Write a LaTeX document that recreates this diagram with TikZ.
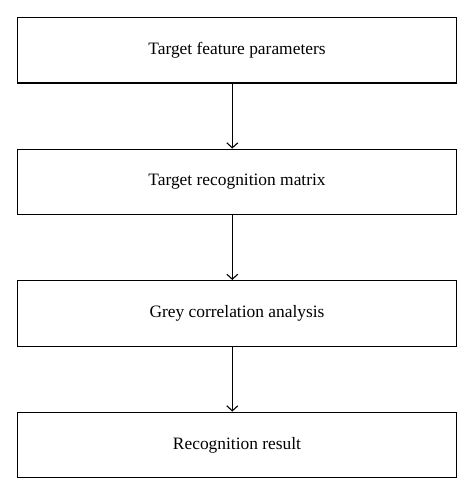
\documentclass[tikz,border=0pt]{standalone}
\usepackage{fontspec}
\setmainfont{Liberation Serif}
\usetikzlibrary{arrows.meta}
\begin{document}
\begin{tikzpicture}[x=1pt,y=-1pt,
  stepbox/.style={draw, line width=1.2pt, minimum width=439.4pt, minimum height=65.7pt, inner sep=0pt, font=\fontsize{17.4}{20}\selectfont},
  conn/.style={line width=1.1pt, -{Straight Barb[length=5pt,width=11pt,line width=1.1pt]}}]
\useasboundingbox (0,0) rectangle (474,496);
\node[stepbox] (a) at (237,50.2) {Target feature parameters};
\node[stepbox] (b) at (237,182) {Target recognition matrix};
\node[stepbox] (c) at (237,313.4) {Grey correlation analysis};
\node[stepbox] (d) at (237,445) {Recognition result};
\draw[conn] (a.south -| 232.3,0) -- (b.north -| 232.3,0);
\draw[conn] (b.south -| 232.3,0) -- (c.north -| 232.3,0);
\draw[conn] (c.south -| 232.3,0) -- (d.north -| 232.3,0);
\end{tikzpicture}
\end{document}
